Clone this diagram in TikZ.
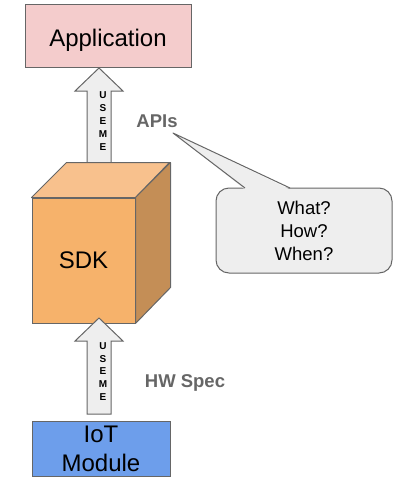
\documentclass[tikz,border=0pt]{standalone}
\usepackage{fontspec}
\setmainfont{Liberation Sans}
\usepackage{tikz}
\usetikzlibrary{calc}
\definecolor{edgegray}{HTML}{666666}
\definecolor{apppink}{HTML}{F4CCCC}
\definecolor{sdkfront}{HTML}{F6B26B}
\definecolor{sdktop}{HTML}{F8C18D}
\definecolor{sdkside}{HTML}{C48E56}
\definecolor{iotblue}{HTML}{6D9EEB}
\definecolor{calloutgray}{HTML}{EEEEEE}
\newcommand{\fatarrow}[2]{%
	\draw [usearrow] let \p1 = (#1), \p2 = (#2) in
		(\x1,\y1) -- (\x1+24pt,\y1-23pt) -- (\x1+12pt,\y1-23pt) -- (\x1+12pt,\y2)
		-- (\x1-12pt,\y2) -- (\x1-12pt,\y1-23pt) -- (\x1-24pt,\y1-23pt) -- cycle;
}

\begin{document}
\begin{tikzpicture}[x=1pt, y=-1pt,
	block/.style={draw=edgegray, line width=1pt, inner sep=0pt, align=center,
		font=\fontsize{24}{29}\selectfont},
	usearrow/.style={draw=edgegray, fill=calloutgray, line width=1pt},
	useme/.style={align=center, inner sep=0pt, font=\fontsize{10}{12.8}\selectfont\bfseries},
	tag/.style={text=edgegray, inner sep=0pt, font=\fontsize{18.5}{22}\selectfont\bfseries}]
	\useasboundingbox (0,0) rectangle (406,480);

	\node [block, fill=apppink, minimum width=166pt, minimum height=63pt,
		text height=21pt, text depth=0pt] (app) at (108,35.5) {Application};
	\node [block, fill=iotblue, minimum width=138pt, minimum height=55pt] (iot) at (101,448.5) {IoT\\Module};

	% the two USEME arrows
	\coordinate (apptip) at (99,68);
	\coordinate (sdktail) at (99,170);
	\coordinate (sdktip) at (99,318);
	\coordinate (iottail) at (99,414);
	\fatarrow{apptip}{sdktail}

	% SDK cube
	\node [block, fill=sdkfront, minimum width=103pt, minimum height=125pt] (sdk) at (83.5,260.5) {SDK};
	\draw [draw=edgegray, fill=sdktop, line width=1pt, line join=round] (sdk.north west) -- ++(35,-35) -- ++(103,0) -- (sdk.north east) -- cycle;
	\draw [draw=edgegray, fill=sdkside, line width=1pt, line join=round] (sdk.north east) -- ++(35,-35) -- ++(0,125) -- (sdk.south east) -- cycle;

	\fatarrow{sdktip}{iottail}
	\node [useme] (useme1) at (103,121) {U\\S\\E\\M\\E};
	\node [useme] (useme2) at (103,371.5) {U\\S\\E\\M\\E};

	\node [tag] (apis) at (157,121) {APIs};
	\node [tag] (hwspec) at (185,383) {HW Spec};

	% callout
	\node [draw=edgegray, fill=calloutgray, line width=1pt, rounded corners=13pt,
		minimum width=176pt, minimum height=85pt, align=center,
		font=\fontsize{18.5}{23}\selectfont] (ask) at (304,230.5) {What?\\How?\\When?};
	\coordinate (asktip) at (173,133);
	\fill [calloutgray] (245,189.5) -- (asktip) -- (290,189.5) -- cycle;
	\draw [edgegray, line width=1pt, line join=round] (245,188) -- (asktip) -- (290,188);
\end{tikzpicture}
\end{document}
